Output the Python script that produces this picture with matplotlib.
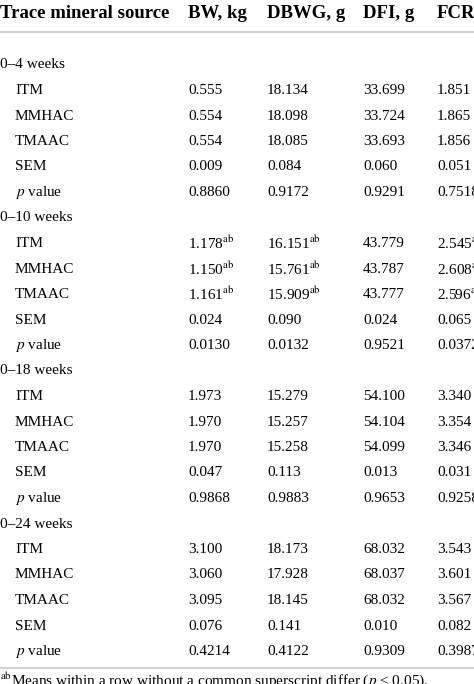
import matplotlib.pyplot as plt
from matplotlib.lines import Line2D

plt.rcParams['font.family'] = ['Liberation Serif', 'DejaVu Serif']
plt.rcParams['mathtext.fontset'] = 'stix'

# -----------------------------
# DATA
# -----------------------------
headers = ["Trace mineral source", "BW, kg", "DBWG, g", "DFI, g", "FCR"]
periods = ["0\u20134 weeks", "0\u201310 weeks", "0\u201318 weeks", "0\u201324 weeks"]
row_labels = ["ITM", "MMHAC", "TMAAC", "SEM", "$p$ value"]

sup = "$^{\\mathrm{ab}}$"
bw = [
    ["0.555", "0.554", "0.554", "0.009", "0.8860"],
    ["1.178" + sup, "1.150" + sup, "1.161" + sup, "0.024", "0.0130"],
    ["1.973", "1.970", "1.970", "0.047", "0.9868"],
    ["3.100", "3.060", "3.095", "0.076", "0.4214"],
]
dbwg = [
    ["18.134", "18.098", "18.085", "0.084", "0.9172"],
    ["16.151" + sup, "15.761" + sup, "15.909" + sup, "0.090", "0.0132"],
    ["15.279", "15.257", "15.258", "0.113", "0.9883"],
    ["18.173", "17.928", "18.145", "0.141", "0.4122"],
]
dfi = [
    ["33.699", "33.724", "33.693", "0.060", "0.9291"],
    ["43.779", "43.787", "43.777", "0.024", "0.9521"],
    ["54.100", "54.104", "54.099", "0.013", "0.9653"],
    ["68.032", "68.037", "68.032", "0.010", "0.9309"],
]
fcr = [
    ["1.851", "1.865", "1.856", "0.051", "0.7518"],
    ["2.545" + sup, "2.608" + sup, "2.596" + sup, "0.065", "0.0372"],
    ["3.340", "3.354", "3.346", "0.031", "0.9258"],
    ["3.543", "3.601", "3.567", "0.082", "0.3987"],
]
footnote = sup + "Means within a row without a common superscript differ ($p$ < 0.05)."

# -----------------------------
# DRAW TABLE (pixel coordinates)
# -----------------------------
W, H = 474, 684
fig = plt.figure(figsize=(W / 100, H / 100), dpi=100)

def put(x, y, s, **kw):
    fig.text(x / W, 1 - y / H, s, va="center", ha="left", **kw)

col_x = [0, 188, 267, 363, 437]
for x, h in zip(col_x, headers):
    put(x, 13, h, fontsize=13.5, fontweight="bold")

fig.add_artist(Line2D([0, 1], [1 - 32 / H] * 2, color="#c8c8c8", lw=1.2))

step = 25.5
y = 65
for g, period in enumerate(periods):
    put(0, y, period, fontsize=11)
    y += step
    for r, lab in enumerate(row_labels):
        put(15, y, lab, fontsize=11)
        for x, col in zip(col_x[1:], [bw, dbwg, dfi, fcr]):
            put(x, y, col[g][r], fontsize=11)
        y += step

fig.add_artist(Line2D([0, 1], [1 - 668 / H] * 2, color="#c8c8c8", lw=1.2))
put(0, 680, footnote, fontsize=11)

fig.savefig("out.png", dpi=100)
